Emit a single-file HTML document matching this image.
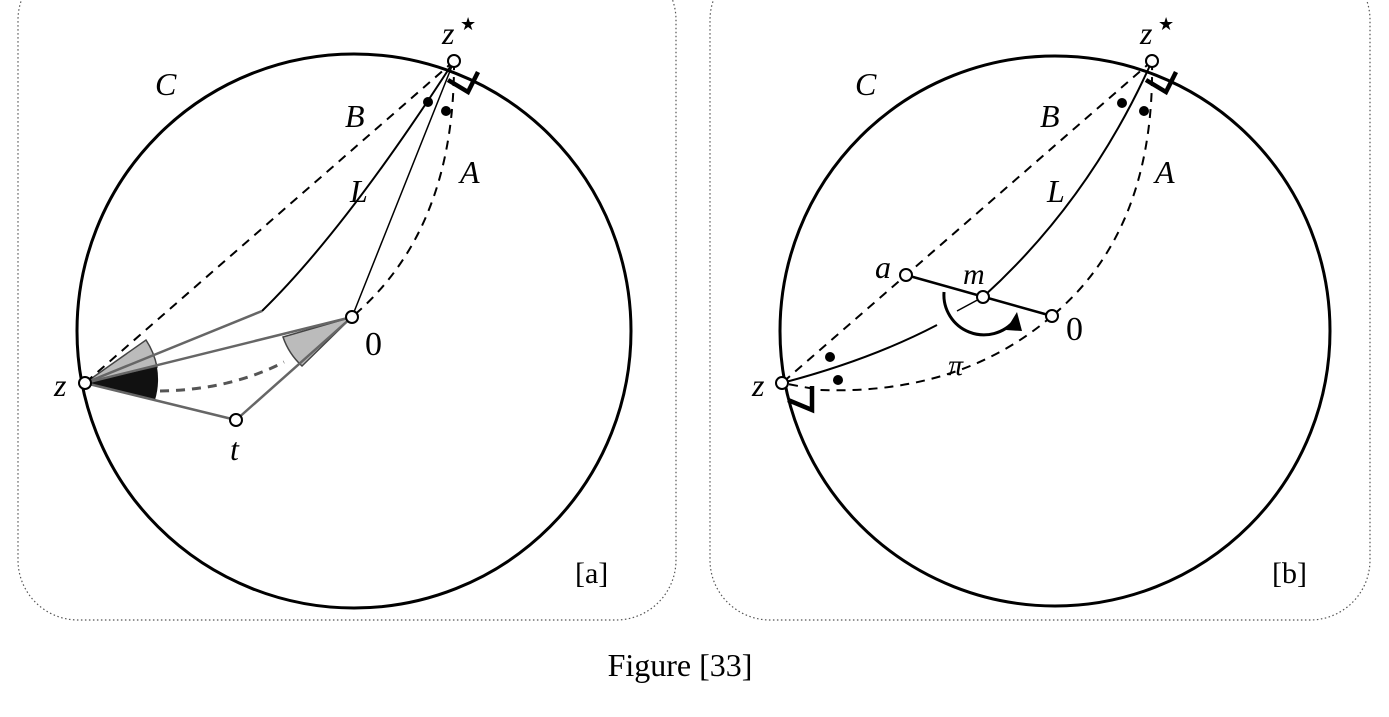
<!DOCTYPE html>
<html><head><meta charset="utf-8"><style>
html,body{margin:0;padding:0;background:#fff;}
svg{display:block;}
text{font-family:"Liberation Serif",serif;fill:#000;}
.it{font-style:italic;}
</style></head><body>
<svg width="1389" height="717" viewBox="0 0 1389 717" xmlns="http://www.w3.org/2000/svg">
<!-- panels -->
<rect x="18" y="-40" width="658" height="660" rx="60" fill="none" stroke="#555" stroke-width="1.2" stroke-dasharray="1.5 2.5"/>
<rect x="710" y="-40" width="660" height="660" rx="60" fill="none" stroke="#555" stroke-width="1.2" stroke-dasharray="1.5 2.5"/>

<!-- Panel a -->
<circle cx="354" cy="331" r="277" fill="none" stroke="#000" stroke-width="3"/>
<!-- sectors -->
<path d="M85,383 L146,340 A75,75 0 0 1 157,367 Z" fill="#bbb" stroke="#444" stroke-width="1.5"/>
<path d="M85,383 L157,367 A72,72 0 0 1 155,400 Z" fill="#111"/>
<path d="M352,317 L283,337 A70,70 0 0 0 302,366 Z" fill="#bbb" stroke="#444" stroke-width="1.5"/>
<!-- B dashed -->
<line x1="454" y1="61" x2="85" y2="383" stroke="#000" stroke-width="2" stroke-dasharray="9 7"/>
<!-- A dashed curve -->
<path d="M454,61 Q455,230 352,317" fill="none" stroke="#000" stroke-width="2" stroke-dasharray="9 7"/>
<!-- L -->
<path d="M454,61 Q345,230 262,311" fill="none" stroke="#000" stroke-width="2"/>
<line x1="262" y1="311" x2="85" y2="383" stroke="#666" stroke-width="2.5"/>
<line x1="454" y1="61" x2="352" y2="317" stroke="#000" stroke-width="1.5"/>
<line x1="85" y1="383" x2="352" y2="317" stroke="#666" stroke-width="2.5"/>
<line x1="85" y1="383" x2="236" y2="420" stroke="#666" stroke-width="2.5"/>
<line x1="236" y1="420" x2="352" y2="317" stroke="#666" stroke-width="2.5"/>
<path d="M160,391 Q230,390 284,362" fill="none" stroke="#555" stroke-width="3" stroke-dasharray="9 7"/>
<!-- right angle -->
<path d="M448,80 L468,92 L478,72" fill="none" stroke="#000" stroke-width="4.5"/>
<circle cx="428" cy="102" r="5" fill="#000"/>
<circle cx="446" cy="111" r="5" fill="#000"/>
<circle cx="454" cy="61" r="6" fill="#fff" stroke="#000" stroke-width="2"/>
<circle cx="85" cy="383" r="6" fill="#fff" stroke="#000" stroke-width="2"/>
<circle cx="352" cy="317" r="6" fill="#fff" stroke="#000" stroke-width="2"/>
<circle cx="236" cy="420" r="6" fill="#fff" stroke="#000" stroke-width="2"/>
<text x="442" y="44" font-size="32" class="it">z</text><text x="460" y="30" font-size="18">★</text>
<text x="155" y="95" font-size="32" class="it">C</text>
<text x="345" y="127" font-size="32" class="it">B</text>
<text x="350" y="202" font-size="32" class="it">L</text>
<text x="460" y="183" font-size="32" class="it">A</text>
<text x="365" y="355" font-size="34">0</text>
<text x="54" y="396" font-size="32" class="it">z</text>
<text x="230" y="460" font-size="32" class="it">t</text>
<text x="575" y="583" font-size="30">[a]</text>

<!-- Panel b -->
<circle cx="1055" cy="331" r="275" fill="none" stroke="#000" stroke-width="3"/>
<line x1="1152" y1="61" x2="782" y2="383" stroke="#000" stroke-width="2" stroke-dasharray="9 7"/>
<path d="M1152,61 Q1155,230 1052,316" fill="none" stroke="#000" stroke-width="2" stroke-dasharray="9 7"/>
<path d="M1052,316 Q960,395 820,390 L782,383" fill="none" stroke="#000" stroke-width="2" stroke-dasharray="9 7"/>
<path d="M1152,61 Q1090,200 983,297" fill="none" stroke="#000" stroke-width="2"/>
<line x1="983" y1="297" x2="957" y2="311" stroke="#000" stroke-width="1.5"/>
<path d="M937,325 Q870,360 782,383" fill="none" stroke="#000" stroke-width="2"/>
<line x1="906" y1="275" x2="1052" y2="316" stroke="#000" stroke-width="2.5"/>
<path d="M944,292 A40,40 0 0 0 1015,320" fill="none" stroke="#000" stroke-width="3"/>
<path d="M1006,330 L1017,312 L1022,331 Z" fill="#000"/>
<path d="M1146,80 L1166,92 L1176,72" fill="none" stroke="#000" stroke-width="4.5"/>
<path d="M788,400 L812,410 L812,386" fill="none" stroke="#000" stroke-width="4.5"/>
<circle cx="1122" cy="103" r="5" fill="#000"/>
<circle cx="1144" cy="111" r="5" fill="#000"/>
<circle cx="830" cy="357" r="5" fill="#000"/>
<circle cx="838" cy="380" r="5" fill="#000"/>
<circle cx="1152" cy="61" r="6" fill="#fff" stroke="#000" stroke-width="2"/>
<circle cx="782" cy="383" r="6" fill="#fff" stroke="#000" stroke-width="2"/>
<circle cx="1052" cy="316" r="6" fill="#fff" stroke="#000" stroke-width="2"/>
<circle cx="906" cy="275" r="6" fill="#fff" stroke="#000" stroke-width="2"/>
<circle cx="983" cy="297" r="6" fill="#fff" stroke="#000" stroke-width="2"/>
<text x="1140" y="44" font-size="32" class="it">z</text><text x="1158" y="30" font-size="18">★</text>
<text x="855" y="95" font-size="32" class="it">C</text>
<text x="1040" y="127" font-size="32" class="it">B</text>
<text x="1047" y="202" font-size="32" class="it">L</text>
<text x="1155" y="183" font-size="32" class="it">A</text>
<text x="875" y="278" font-size="32" class="it">a</text>
<text x="963" y="284" font-size="30" class="it">m</text>
<text x="1066" y="340" font-size="34">0</text>
<text x="948" y="375" font-size="30" class="it">π</text>
<text x="752" y="396" font-size="32" class="it">z</text>
<text x="1272" y="583" font-size="30">[b]</text>

<text x="680" y="676" font-size="32" text-anchor="middle">Figure [33]</text>
</svg>
</body></html>
